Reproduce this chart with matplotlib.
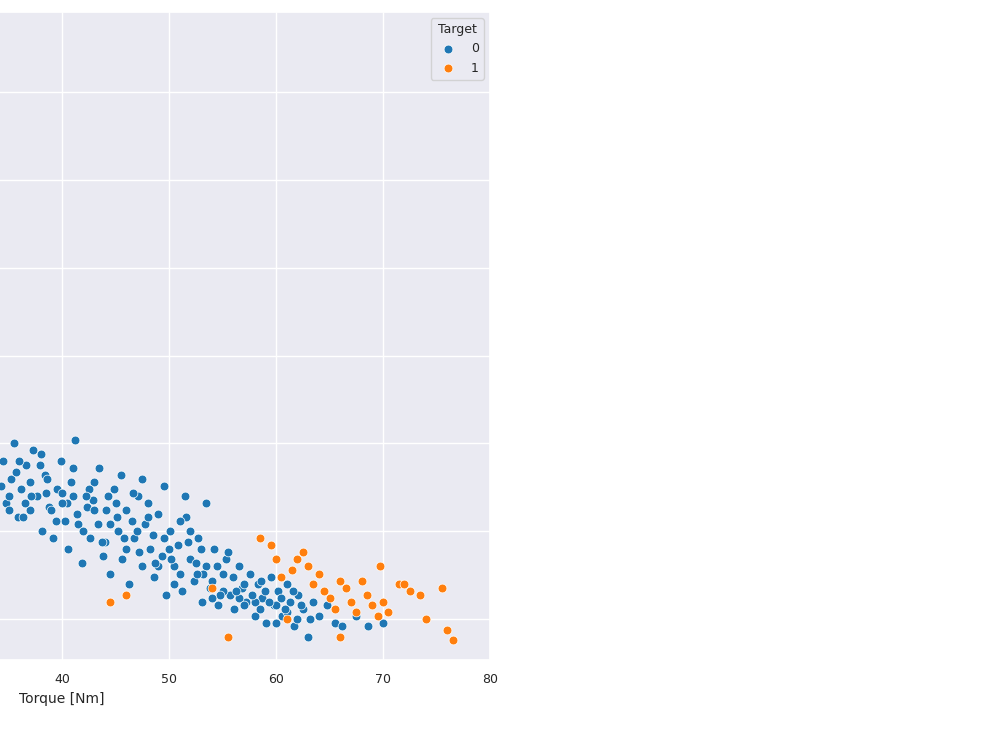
import matplotlib
matplotlib.use("Agg")
import matplotlib.pyplot as plt
import seaborn as sns

sns.set_theme(style="darkgrid")
plt.rcParams['font.family'] = ['Liberation Sans Narrow', 'DejaVu Sans']

blue_t = [34.5,34.8,35.2,35.5,35.9,36.2,36.6,37.0,37.3,37.7,38.1,38.4,38.8,39.2,39.5,39.9,40.3,40.6,41.0,41.2,41.5,41.9,42.3,42.6,43.0,43.4,43.8,44.1,44.5,44.9,45.2,45.6,46.0,46.3,46.7,47.1,47.5,47.8,48.2,48.6,49.0,49.3,49.7,50.1,50.5,50.8,51.2,51.6,52.0,52.3,52.7,53.1,53.5,53.8,54.2,54.6,55.0,55.3,55.7,56.1,56.5,56.8,57.2,57.6,58.0,58.3,58.7,59.1,59.5,59.8,60.2,60.6,61.0,61.3,61.7,62.1,62.5,63.0,63.5,64.0,64.8,65.5,66.2,67.5,68.6,70.0,
          35,36,37,38,39,40,41,42,43,44,45,46,47,48,49,50,51,52,53,54,55,56,57,58,59,60,61,62,36.5,38.5,40.5,42.5,44.5,46.5,48.5,50.5,52.5,54.5,56.5,58.5,60.5,43.5,45.5,47.5,49.5,51.5,53.5,
          34.3,35.7,37.1,38.6,40.0,41.4,42.9,44.3,45.8,47.2,48.7,50.2,51.8,53.2,54.8,56.3,57.8,59.3,60.8,62.3,
          35.0,36.4,37.9,39.4,40.8,42.2,43.7,45.1,46.6,48.0,49.5,51.0,52.6,54.0,55.5,57.0,58.6,60.0,61.6,63.2]
blue_s = [1700,1580,1650,1750,1540,1620,1690,1560,1730,1600,1500,1660,1570,1480,1620,1700,1530,1450,1600,1760,1520,1410,1570,1480,1640,1520,1430,1560,1380,1620,1500,1420,1560,1350,1480,1600,1400,1520,1450,1370,1550,1430,1320,1500,1400,1460,1330,1540,1420,1360,1480,1300,1400,1340,1450,1290,1380,1420,1320,1280,1400,1340,1300,1380,1260,1350,1310,1240,1370,1290,1330,1260,1350,1300,1230,1320,1280,1200,1300,1260,1290,1240,1230,1260,1230,1240,
          1600,1700,1640,1720,1560,1610,1680,1500,1560,1470,1580,1450,1500,1540,1400,1450,1380,1500,1450,1360,1330,1370,1350,1300,1330,1290,1270,1250,1580,1610,1580,1620,1520,1530,1490,1350,1410,1400,1310,1280,1310,1680,1660,1650,1630,1600,1580,
          1630,1670,1600,1650,1580,1550,1590,1600,1480,1440,1410,1420,1470,1380,1320,1330,1320,1300,1280,1290,
          1560,1540,1690,1530,1640,1600,1470,1540,1610,1580,1480,1530,1380,1310,1440,1290,1360,1240,1330,1250]
orange_t = [44.5,46,54,55.5,58.5,59.5,60,60.5,61.5,62,62.5,63,63.5,64,64.5,65,65.5,66,66.5,67,67.5,68,68.5,69,69.5,70,70.5,71.5,72,72.5,73.5,74,75.5,76,76.5,66,69.7,61]
orange_s = [1300,1320,1340,1200,1480,1460,1420,1370,1390,1420,1440,1400,1350,1380,1330,1310,1280,1360,1340,1300,1270,1360,1320,1290,1260,1300,1270,1350,1350,1330,1320,1250,1340,1220,1190,1200,1400,1250]

fig = plt.figure(figsize=(10, 7.5), dpi=100)
ax = fig.add_axes([-0.366, 0.12, 0.856, 0.864])
ax.scatter(blue_t, blue_s, s=40, color='#1f77b4', edgecolor='white', linewidth=0.5, label='0')
ax.scatter(orange_t, orange_s, s=40, color='#ff7f0e', edgecolor='white', linewidth=0.5, label='1')
ax.set_xlim(0, 80)
ax.set_ylim(1134, 2977)
ax.set_xticks(range(0, 81, 10))
ax.set_yticks(range(1250, 2751, 250))
ax.tick_params(labelsize=9)
ax.set_xlabel('Torque [Nm]', fontsize=10)
ax.set_ylabel('Rotational speed [rpm]', fontsize=10)
ax.legend(title='Target', loc='upper right', fontsize=9, title_fontsize=9)
fig.savefig('out.png')
